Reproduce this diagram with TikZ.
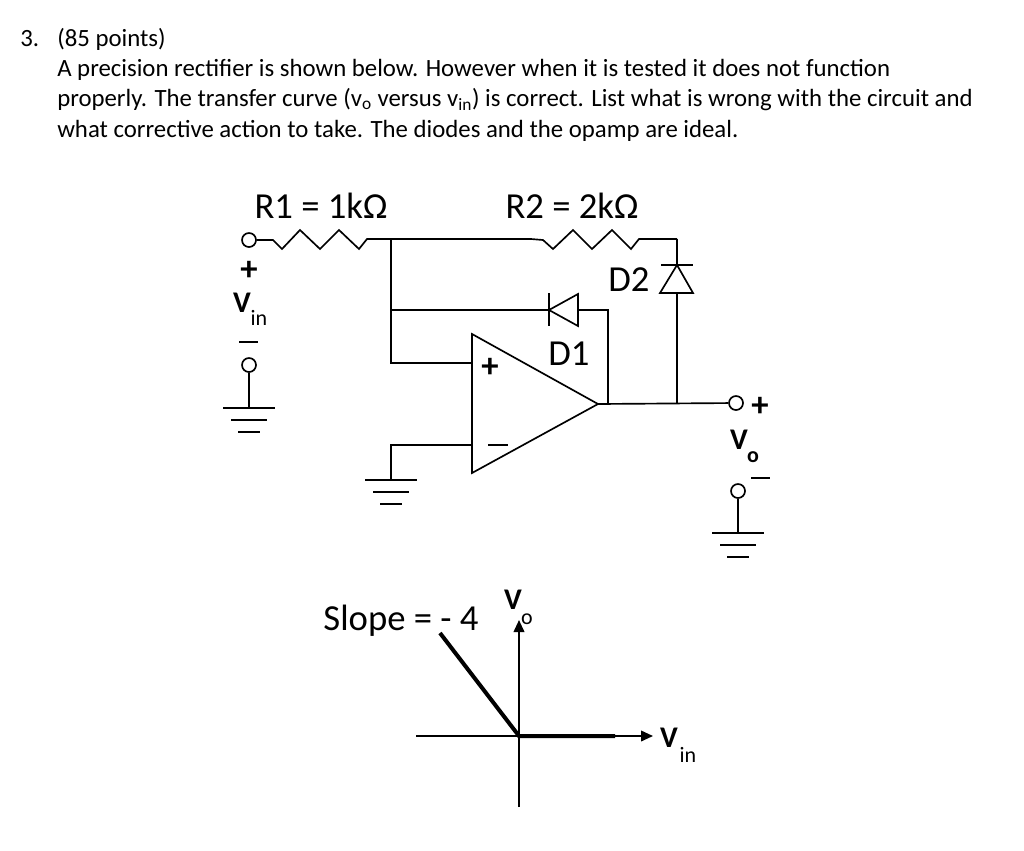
\documentclass[tikz,border=0pt]{standalone}
\usepackage{fontspec}
\setmainfont{Carlito}
\usetikzlibrary{positioning,arrows.meta}

\begin{document}
\begin{tikzpicture}[x=0.75pt, y=-0.75pt,
      wire/.style = {line width=1.25pt},
       arr/.style = {wire, -{Triangle[length=9pt, width=8pt]}},
     curve/.style = {line width=3pt},
      term/.style = {circle, draw, line width=1.25pt, fill=white,
                     minimum size=10.5pt, inner sep=0pt},
       txt/.style = {anchor=base west, inner sep=0pt,
                     font=\fontsize{18.6}{22}\selectfont},
       lbl/.style = {inner sep=0pt, font=\fontsize{27.5}{32}\selectfont},
       sgn/.style = {inner sep=0pt, font=\bfseries\fontsize{26}{30}\selectfont},
      bigv/.style = {inner sep=0pt, font=\bfseries\fontsize{22.5}{26}\selectfont},
       sub/.style = {inner sep=0pt, font=\fontsize{16.5}{20}\selectfont},
       gnd/.pic = {\draw[wire] (-26,0) -- (26,0)
                                (-18,12) -- (18,12)
                                (-11,24) -- (11,24);},
                            ]
    \useasboundingbox (0,0) rectangle (1024,850);
    % problem text
    \node[txt] (num)   at (20,46)  {3.};
    \node[txt] (pts)   at (57,46)  {(85 points)};
    \node[txt] (line1) at (57,76)  {A precision rectifier is shown below. However when it is tested it does not function};
    \node[txt] (line2) at (57,106) {properly. The transfer curve (v\textsubscript{o} versus v\textsubscript{in}) is correct. List what is wrong with the circuit and};
    \node[txt] (line3) at (57,137) {what corrective action to take. The diodes and the opamp are ideal.};
    %
    \node[lbl] (R1) at (321,206) {R1 = 1kΩ};
    \node[lbl] (R2) at (572,206) {R2 = 2kΩ};
    \node[lbl] (D2) at (629,280) {D2};
    \node[lbl] (D1) at (569,354) {D1};
    %% terminals
    \node[term] (Tin)  at (249,240) {};
    \node[term] (Tgnd) at (249,365) {};
    \node[term] (Tout) at (736,403) {};
    \node[term] (Tret) at (738,491) {};
    %% junctions
    \coordinate (Jin)  at (391,239);
    \coordinate (Jfb)  at (391,310);
    \coordinate (Jneg) at (391,363);
    \coordinate (Ra)   at (367,239);
    \coordinate (Rb)   at (531,239);
    \coordinate (Rc)   at (639,239);
    \coordinate (Jtop) at (677,239);
    \coordinate (A)    at (549,310);
    \coordinate (K)    at (578,310);
    \coordinate (Jk)   at (608,310);
    \coordinate (Jo)   at (608,404);
    \coordinate (Jd)   at (677,404);
    \coordinate (Ka)   at (677,265);
    \coordinate (Kb)   at (677,293);
    \coordinate (Out)  at (598,404);
    \coordinate (Ip)   at (472,363);
    \coordinate (Im)   at (472,445);
    \coordinate (Gn)   at (391,445);
    \coordinate (Gm)   at (391,480);
    \coordinate (Gl)   at (249,408);
    \coordinate (Gr)   at (738,533);
    %% resistors
    \draw[wire] (Tin) -- (273,240) -- (282,249) -- (300,230) -- (320,249)
                -- (339,230) -- (359,249) -- (Ra) -- (Jin);
    \draw[wire] (Jin) -- (Rb) -- (543,240) -- (553,249) -- (573,230) -- (592,249)
                -- (612,230) -- (631,249) -- (Rc) -- (Jtop);
    %% feedback
    \draw[wire] (Jin) -- (Jneg) -- (Ip);
    \draw[wire] (Jfb) -- (A);
    \draw[wire] (K) -- (Jk) -- (Jo);
    \draw[wire] (Jtop) -- (Ka);
    \draw[wire] (Kb) -- (Jd);
    \draw[wire] (Out) -- (Tout);
    %% diodes
    \draw[wire] (549,293) -- (549,326);
    \draw[wire] (A) -- (578,294) -- (578,326) -- cycle;
    \draw[wire] (661,265) -- (693,265);
    \draw[wire] (Ka) -- (693,293) -- (660,293) -- cycle;
    %% opamp
    \draw[wire] (472,334) -- (Out) -- (472,473) -- cycle;
    \node[sgn] (Sp) at (490,368) {+};
    \draw[wire, line width=1.6pt] (488,445) -- (508,445);
    %% grounds
    \draw[wire] (Im) -- (Gn) -- (Gm);
    \draw[wire] (Tgnd) -- (Gl);
    \draw[wire] (Tret) -- (Gr);
    \pic at (Gm) {gnd};
    \pic at (Gl) {gnd};
    \pic at (Gr) {gnd};
    %% port labels
    \node[sgn] (Vp)  at (249,271) {+};
    \node[bigv] (Vv) at (242,303) {V};
    \node[sub]  (Vs) at (259,318) {in};
    \draw[wire, line width=1.8pt] (239,342) -- (258,342);
    \node[sgn] (Op)  at (760,407) {+};
    \node[bigv] (Ov) at (739,440) {V};
    \node[sub, font=\bfseries\fontsize{16.5}{20}\selectfont] (Os) at (753,457) {o};
    \draw[wire, line width=1.8pt] (751,478) -- (770,478);
    %% transfer curve
    \coordinate (O)  at (519,736);
    \coordinate (Yb) at (519,807);
    \coordinate (Yt) at (519,620);
    \coordinate (Xl) at (416,736);
    \coordinate (Xr) at (653,736);
    \coordinate (Ca) at (440,633);
    \coordinate (Cb) at (615,736);
    \draw[arr] (Yb) -- (Yt);
    \draw[arr] (Xl) -- (Xr);
    \draw[curve] (Ca) -- (O) -- (Cb);
    \node[lbl] (Sl)  at (401,621) {Slope = - 4};
    \node[bigv] (Pv) at (513,600) {V};
    \node[sub]  (Po) at (527,619) {o};
    \node[bigv] (Qv) at (669,738) {V};
    \node[sub]  (Qs) at (688,755) {in};
\end{tikzpicture}
\end{document}
